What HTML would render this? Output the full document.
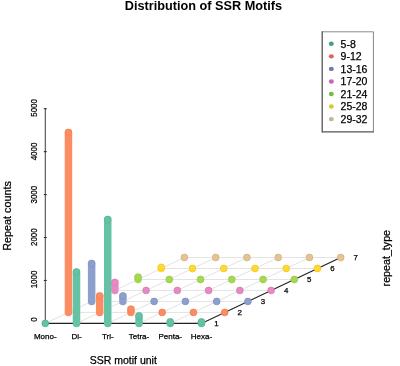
<!DOCTYPE html>
<html><head><meta charset="utf-8"><style>
html,body{margin:0;padding:0;background:#fff;}
svg{display:block;font-family:"Liberation Sans",Arial,Helvetica,sans-serif;}
</style></head><body>
<svg width="400" height="366" viewBox="0 0 400 366">
<rect width="400" height="366" fill="#fff"/>
<g stroke="#e3e3e3" stroke-width="1"><line x1="45.25" y1="323.4" x2="201.5" y2="323.4"/><line x1="68.45" y1="312.42" x2="224.7" y2="312.42"/><line x1="91.65" y1="301.44" x2="247.9" y2="301.44"/><line x1="114.85" y1="290.46" x2="271.1" y2="290.46"/><line x1="138.05" y1="279.48" x2="294.3" y2="279.48"/><line x1="161.25" y1="268.5" x2="317.5" y2="268.5"/><line x1="184.45" y1="257.52" x2="340.7" y2="257.52"/><line x1="45.25" y1="323.4" x2="184.45" y2="257.52"/><line x1="76.5" y1="323.4" x2="215.7" y2="257.52"/><line x1="107.75" y1="323.4" x2="246.95" y2="257.52"/><line x1="139" y1="323.4" x2="278.2" y2="257.52"/><line x1="170.25" y1="323.4" x2="309.45" y2="257.52"/><line x1="201.5" y1="323.4" x2="340.7" y2="257.52"/></g>
<polyline points="45.25,323.4 201.5,323.4 340.7,257.52" fill="none" stroke="#222" stroke-width="1.1"/>
<line x1="45.3" y1="323.4" x2="45.3" y2="108.7" stroke="#444" stroke-width="1.05"/>
<g stroke="#333" stroke-width="1.1"><line x1="43.8" y1="323.4" x2="46.8" y2="323.4"/><line x1="43.8" y1="280.46" x2="46.8" y2="280.46"/><line x1="43.8" y1="237.52" x2="46.8" y2="237.52"/><line x1="43.8" y1="194.58" x2="46.8" y2="194.58"/><line x1="43.8" y1="151.64" x2="46.8" y2="151.64"/><line x1="43.8" y1="108.7" x2="46.8" y2="108.7"/></g>
<g font-size="9" text-anchor="middle" stroke="#000" stroke-width="0.25"><text transform="translate(37.2 319.6) rotate(-90) scale(0.88 1)">0</text><text transform="translate(37.2 279.5) rotate(-90) scale(0.88 1)">1000</text><text transform="translate(37.2 237.2) rotate(-90) scale(0.88 1)">2000</text><text transform="translate(37.2 194.7) rotate(-90) scale(0.88 1)">3000</text><text transform="translate(37.2 151.5) rotate(-90) scale(0.88 1)">4000</text><text transform="translate(37.2 107.9) rotate(-90) scale(0.88 1)">5000</text></g>
<circle cx="184.45" cy="257.52" r="3.4" fill="#E5C494" stroke="#D0AE80" stroke-width="0.7"/><circle cx="215.7" cy="257.52" r="3.4" fill="#E5C494" stroke="#D0AE80" stroke-width="0.7"/><circle cx="246.95" cy="257.52" r="3.4" fill="#E5C494" stroke="#D0AE80" stroke-width="0.7"/><circle cx="278.2" cy="257.52" r="3.4" fill="#E5C494" stroke="#D0AE80" stroke-width="0.7"/><circle cx="309.45" cy="257.52" r="3.4" fill="#E5C494" stroke="#D0AE80" stroke-width="0.7"/><circle cx="340.7" cy="257.52" r="3.4" fill="#E5C494" stroke="#D0AE80" stroke-width="0.7"/><line x1="161.25" y1="268.5" x2="161.25" y2="267.4" stroke="#FFD92F" stroke-width="7.5" stroke-linecap="round"/><circle cx="161.25" cy="267.4" r="3.4" fill="none" stroke="#EBC520" stroke-width="0.7" stroke-opacity="0.6"/><circle cx="192.5" cy="268.5" r="3.4" fill="#FFD92F" stroke="#EBC520" stroke-width="0.7"/><circle cx="223.75" cy="268.5" r="3.4" fill="#FFD92F" stroke="#EBC520" stroke-width="0.7"/><circle cx="255" cy="268.5" r="3.4" fill="#FFD92F" stroke="#EBC520" stroke-width="0.7"/><circle cx="286.25" cy="268.5" r="3.4" fill="#FFD92F" stroke="#EBC520" stroke-width="0.7"/><circle cx="317.5" cy="268.5" r="3.4" fill="#FFD92F" stroke="#EBC520" stroke-width="0.7"/><line x1="138.05" y1="279.48" x2="138.05" y2="277.2" stroke="#A6D854" stroke-width="7.5" stroke-linecap="round"/><circle cx="138.05" cy="277.2" r="3.4" fill="none" stroke="#92C640" stroke-width="0.7" stroke-opacity="0.6"/><circle cx="169.3" cy="279.48" r="3.4" fill="#A6D854" stroke="#92C640" stroke-width="0.7"/><circle cx="200.55" cy="279.48" r="3.4" fill="#A6D854" stroke="#92C640" stroke-width="0.7"/><circle cx="231.8" cy="279.48" r="3.4" fill="#A6D854" stroke="#92C640" stroke-width="0.7"/><circle cx="263.05" cy="279.48" r="3.4" fill="#A6D854" stroke="#92C640" stroke-width="0.7"/><circle cx="294.3" cy="279.48" r="3.4" fill="#A6D854" stroke="#92C640" stroke-width="0.7"/><line x1="114.85" y1="290.46" x2="114.85" y2="282.4" stroke="#E78AC3" stroke-width="7.5" stroke-linecap="round"/><circle cx="114.85" cy="282.4" r="3.4" fill="none" stroke="#D377B0" stroke-width="0.7" stroke-opacity="0.6"/><circle cx="146.1" cy="290.46" r="3.4" fill="#E78AC3" stroke="#D377B0" stroke-width="0.7"/><circle cx="177.35" cy="290.46" r="3.4" fill="#E78AC3" stroke="#D377B0" stroke-width="0.7"/><circle cx="208.6" cy="290.46" r="3.4" fill="#E78AC3" stroke="#D377B0" stroke-width="0.7"/><circle cx="239.85" cy="290.46" r="3.4" fill="#E78AC3" stroke="#D377B0" stroke-width="0.7"/><circle cx="271.1" cy="290.46" r="3.4" fill="#E78AC3" stroke="#D377B0" stroke-width="0.7"/><line x1="91.65" y1="301.44" x2="91.65" y2="263.6" stroke="#8DA0CB" stroke-width="7.5" stroke-linecap="round"/><circle cx="91.65" cy="263.6" r="3.4" fill="none" stroke="#7A8CBA" stroke-width="0.7" stroke-opacity="0.6"/><line x1="122.9" y1="301.44" x2="122.9" y2="296.1" stroke="#8DA0CB" stroke-width="7.5" stroke-linecap="round"/><circle cx="122.9" cy="296.1" r="3.4" fill="none" stroke="#7A8CBA" stroke-width="0.7" stroke-opacity="0.6"/><circle cx="154.15" cy="301.44" r="3.4" fill="#8DA0CB" stroke="#7A8CBA" stroke-width="0.7"/><circle cx="185.4" cy="301.44" r="3.4" fill="#8DA0CB" stroke="#7A8CBA" stroke-width="0.7"/><circle cx="216.65" cy="301.44" r="3.4" fill="#8DA0CB" stroke="#7A8CBA" stroke-width="0.7"/><circle cx="247.9" cy="301.44" r="3.4" fill="#8DA0CB" stroke="#7A8CBA" stroke-width="0.7"/><line x1="68.45" y1="312.42" x2="68.45" y2="132.6" stroke="#FC8D62" stroke-width="7.5" stroke-linecap="round"/><circle cx="68.45" cy="132.6" r="3.4" fill="none" stroke="#E87A50" stroke-width="0.7" stroke-opacity="0.6"/><line x1="99.7" y1="312.42" x2="99.7" y2="295.9" stroke="#FC8D62" stroke-width="7.5" stroke-linecap="round"/><circle cx="99.7" cy="295.9" r="3.4" fill="none" stroke="#E87A50" stroke-width="0.7" stroke-opacity="0.6"/><line x1="130.95" y1="312.42" x2="130.95" y2="309.3" stroke="#FC8D62" stroke-width="7.5" stroke-linecap="round"/><circle cx="130.95" cy="309.3" r="3.4" fill="none" stroke="#E87A50" stroke-width="0.7" stroke-opacity="0.6"/><circle cx="162.2" cy="312.42" r="3.4" fill="#FC8D62" stroke="#E87A50" stroke-width="0.7"/><circle cx="193.45" cy="312.42" r="3.4" fill="#FC8D62" stroke="#E87A50" stroke-width="0.7"/><circle cx="224.7" cy="312.42" r="3.4" fill="#FC8D62" stroke="#E87A50" stroke-width="0.7"/><circle cx="45.25" cy="323.4" r="3.4" fill="#66C2A5" stroke="#4FAA8C" stroke-width="0.7"/><line x1="76.5" y1="323.4" x2="76.5" y2="272" stroke="#66C2A5" stroke-width="7.5" stroke-linecap="round"/><circle cx="76.5" cy="272" r="3.4" fill="none" stroke="#4FAA8C" stroke-width="0.7" stroke-opacity="0.6"/><line x1="107.75" y1="323.4" x2="107.75" y2="219.6" stroke="#66C2A5" stroke-width="7.5" stroke-linecap="round"/><circle cx="107.75" cy="219.6" r="3.4" fill="none" stroke="#4FAA8C" stroke-width="0.7" stroke-opacity="0.6"/><line x1="139" y1="323.4" x2="139" y2="316" stroke="#66C2A5" stroke-width="7.5" stroke-linecap="round"/><circle cx="139" cy="316" r="3.4" fill="none" stroke="#4FAA8C" stroke-width="0.7" stroke-opacity="0.6"/><line x1="170.25" y1="323.4" x2="170.25" y2="322" stroke="#66C2A5" stroke-width="7.5" stroke-linecap="round"/><circle cx="170.25" cy="322" r="3.4" fill="none" stroke="#4FAA8C" stroke-width="0.7" stroke-opacity="0.6"/><line x1="201.5" y1="323.4" x2="201.5" y2="322" stroke="#66C2A5" stroke-width="7.5" stroke-linecap="round"/><circle cx="201.5" cy="322" r="3.4" fill="none" stroke="#4FAA8C" stroke-width="0.7" stroke-opacity="0.6"/>
<g font-size="8" text-anchor="middle" stroke="#000" stroke-width="0.25"><text x="45.25" y="338.6">Mono-</text><text x="76.5" y="338.6">Di-</text><text x="107.75" y="338.6">Tri-</text><text x="139" y="338.6">Tetra-</text><text x="170.25" y="338.6">Penta-</text><text x="201.5" y="338.6">Hexa-</text></g>
<g font-size="7.9" text-anchor="middle" stroke="#000" stroke-width="0.25"><text x="216.5" y="325.6">1</text><text x="239.7" y="314.62">2</text><text x="262.9" y="303.64">3</text><text x="286.1" y="292.66">4</text><text x="309.3" y="281.68">5</text><text x="332.5" y="270.7">6</text><text x="355.7" y="259.72">7</text></g>
<text x="203.4" y="10" font-size="12.7" font-weight="bold" text-anchor="middle">Distribution of SSR Motifs</text>
<g stroke="#000" stroke-width="0.25" text-anchor="middle">
<text x="123.3" y="364.3" font-size="10.5">SSR motif unit</text>
<text transform="translate(11.4 216) rotate(-90)" font-size="10.8">Repeat counts</text>
<text transform="translate(389.9 258.2) rotate(-90)" font-size="10.7">repeat_type</text>
</g>
<line x1="322.2" y1="31.8" x2="373.4" y2="31.8" stroke="#8a8a8a" stroke-width="1"/>
<line x1="373.4" y1="31.8" x2="373.4" y2="131.9" stroke="#888" stroke-width="1"/>
<line x1="322.2" y1="31.3" x2="322.2" y2="132.4" stroke="#555" stroke-width="1.3"/>
<line x1="322.2" y1="131.9" x2="373.9" y2="131.9" stroke="#555" stroke-width="1.2"/>
<ellipse cx="331.3" cy="43.8" rx="2.5" ry="2.2" fill="#4A9E80"/><ellipse cx="331.3" cy="56.35" rx="2.5" ry="2.2" fill="#DE6658"/><ellipse cx="331.3" cy="68.9" rx="2.5" ry="2.2" fill="#7078AE"/><ellipse cx="331.3" cy="81.45" rx="2.5" ry="2.2" fill="#C868B2"/><ellipse cx="331.3" cy="94" rx="2.5" ry="2.2" fill="#7CBA48"/><ellipse cx="331.3" cy="106.55" rx="2.5" ry="2.2" fill="#D8CC30"/><ellipse cx="331.3" cy="119.1" rx="2.5" ry="2.2" fill="#C4B498"/>
<g font-size="10.5" stroke="#000" stroke-width="0.25"><text x="340.6" y="47.6">5-8</text><text x="340.6" y="60.15">9-12</text><text x="340.6" y="72.7">13-16</text><text x="340.6" y="85.25">17-20</text><text x="340.6" y="97.8">21-24</text><text x="340.6" y="110.35">25-28</text><text x="340.6" y="122.9">29-32</text></g>
</svg>
</body></html>
